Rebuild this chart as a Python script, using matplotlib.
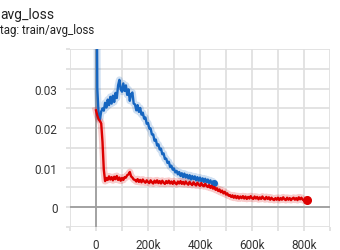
import matplotlib
matplotlib.use("Agg")
import matplotlib.pyplot as plt
from matplotlib.ticker import MultipleLocator, FuncFormatter

# ---------------------------------------------------------
# Data, steps in units of 5k
# ---------------------------------------------------------
step_size = 5000

loss_run_blue = [
    0.0900, 0.0300, 0.0235, 0.0222, 0.0242, 0.0250, 0.0244, 0.0264, 0.0252, 0.0272,
    0.0258, 0.0279, 0.0262, 0.0282, 0.0266, 0.0289, 0.0276, 0.0308, 0.0322, 0.0298,
    0.0292, 0.0313, 0.0294, 0.0308, 0.0284, 0.0298, 0.0269, 0.0286, 0.0290, 0.0262,
    0.0260, 0.0245, 0.0258, 0.0241, 0.0251, 0.0234, 0.0239, 0.0224, 0.0227, 0.0211,
    0.0213, 0.0199, 0.0199, 0.0184, 0.0184, 0.0168, 0.0171, 0.0156, 0.0159, 0.0146,
    0.0148, 0.0134, 0.0136, 0.0122, 0.0123, 0.0112, 0.0115, 0.0102, 0.0105, 0.0095,
    0.0098, 0.0088, 0.0092, 0.0083, 0.0089, 0.0079, 0.0086, 0.0076, 0.0085, 0.0075,
    0.0082, 0.0073, 0.0081, 0.0070, 0.0079, 0.0071, 0.0078, 0.0068, 0.0076, 0.0067,
    0.0075, 0.0066, 0.0073, 0.0064, 0.0072, 0.0063, 0.0070, 0.0061, 0.0068, 0.0060,
    0.0065, 0.0060,
]

loss_run_red = [
    0.0245, 0.0232, 0.0222, 0.0218, 0.0212, 0.0165, 0.0095, 0.0066, 0.0074, 0.0069,
    0.0078, 0.0070, 0.0076, 0.0068, 0.0077, 0.0071, 0.0079, 0.0069, 0.0075, 0.0067,
    0.0074, 0.0069, 0.0076, 0.0075, 0.0081, 0.0083, 0.0089, 0.0078, 0.0075, 0.0070,
    0.0069, 0.0065, 0.0071, 0.0064, 0.0069, 0.0063, 0.0070, 0.0065, 0.0062, 0.0068,
    0.0064, 0.0061, 0.0068, 0.0063, 0.0060, 0.0067, 0.0062, 0.0068, 0.0061, 0.0066,
    0.0060, 0.0067, 0.0062, 0.0059, 0.0066, 0.0061, 0.0067, 0.0060, 0.0065, 0.0059,
    0.0066, 0.0061, 0.0058, 0.0065, 0.0060, 0.0066, 0.0059, 0.0064, 0.0058, 0.0065,
    0.0060, 0.0057, 0.0064, 0.0059, 0.0056, 0.0063, 0.0058, 0.0055, 0.0062, 0.0057,
    0.0054, 0.0061, 0.0055, 0.0053, 0.0059, 0.0054, 0.0051, 0.0056, 0.0049, 0.0054,
    0.0047, 0.0051, 0.0044, 0.0048, 0.0041, 0.0045, 0.0038, 0.0042, 0.0035, 0.0039,
    0.0032, 0.0035, 0.0029, 0.0031, 0.0026, 0.0030, 0.0024, 0.0029, 0.0023, 0.0028,
    0.0022, 0.0027, 0.0023, 0.0028, 0.0022, 0.0027, 0.0021, 0.0026, 0.0022, 0.0028,
    0.0023, 0.0021, 0.0027, 0.0022, 0.0026, 0.0020, 0.0025, 0.0021, 0.0027, 0.0022,
    0.0020, 0.0026, 0.0021, 0.0025, 0.0019, 0.0024, 0.0020, 0.0018, 0.0023, 0.0019,
    0.0024, 0.0018, 0.0023, 0.0019, 0.0025, 0.0020, 0.0018, 0.0024, 0.0019, 0.0023,
    0.0018, 0.0022, 0.0024, 0.0019, 0.0023, 0.0018, 0.0025, 0.0020, 0.0024, 0.0019,
    0.0017, 0.0019, 0.0018,
]

steps_blue = [i * step_size for i in range(len(loss_run_blue))]
steps_red = [i * step_size for i in range(len(loss_run_red))]

titulo = "avg_loss"
subtitulo = "tag: train/avg_loss"

color_azul = "#1565c0"
color_rojo = "#dd0000"

# ---------------------------------------------------------
# Figure
# ---------------------------------------------------------
plt.rcParams["font.family"] = ["Roboto", "DejaVu Sans"]

fig = plt.figure(figsize=(3.4, 2.51), dpi=100)
ax = fig.add_axes([70 / 340, 23 / 251, 260 / 340, 178 / 251])

fig.text(0.0, 1 - 19 / 251, titulo, fontsize=10, color="#212121", va="baseline")
fig.text(0.0, 1 - 34 / 251, subtitulo, fontsize=8.3, color="#212121", va="baseline")

# grid + zero lines
ax.set_axisbelow(True)
ax.grid(True, which="both", color="#e0e0e0", linewidth=1.3)
ax.axhline(0, color="#9e9e9e", linewidth=1.3, zorder=1)
ax.axvline(0, color="#9e9e9e", linewidth=1.3, zorder=1)

# pale raw band + main line for each run
ax.plot(steps_blue, loss_run_blue, color=color_azul, alpha=0.2, linewidth=5, zorder=2)
ax.plot(steps_red, loss_run_red, color=color_rojo, alpha=0.2, linewidth=5, zorder=2)
ax.plot(steps_blue, loss_run_blue, color=color_azul, linewidth=1.7, zorder=3)
ax.plot(steps_red, loss_run_red, color=color_rojo, linewidth=1.7, zorder=4)
ax.plot(steps_blue[-1], loss_run_blue[-1], "o", color=color_azul, markersize=4, zorder=3)
ax.plot(steps_red[-1], loss_run_red[-1], "o", color=color_rojo, markersize=5.5, zorder=4)

ax.set_xlim(-100000, 900000)
ax.set_ylim(-0.005, 0.04)

ax.xaxis.set_major_locator(MultipleLocator(200000))
ax.xaxis.set_minor_locator(MultipleLocator(100000))
ax.yaxis.set_major_locator(MultipleLocator(0.01))
ax.yaxis.set_minor_locator(MultipleLocator(0.005))


def fmt_x(v, pos):
    if v < 0 or v > 850000:
        return ""
    return "0" if v == 0 else f"{int(v / 1000)}k"


def fmt_y(v, pos):
    if v < -0.001 or v > 0.035:
        return ""
    return "0" if abs(v) < 1e-9 else f"{v:.2f}"


ax.xaxis.set_major_formatter(FuncFormatter(fmt_x))
ax.yaxis.set_major_formatter(FuncFormatter(fmt_y))

ax.tick_params(which="both", length=3, width=1.3, color="#e0e0e0",
               labelsize=8.5, labelcolor="#333333")
ax.tick_params(axis="x", pad=5)
ax.tick_params(axis="y", pad=6)

for s in ax.spines.values():
    s.set_visible(False)

fig.savefig("out.png", dpi=100)
